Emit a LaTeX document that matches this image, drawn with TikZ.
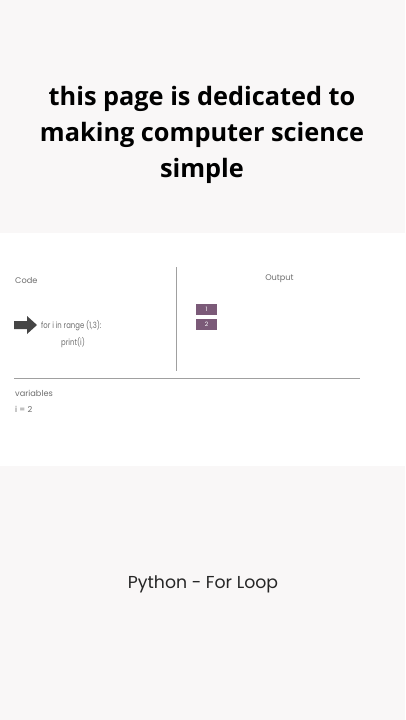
\documentclass[tikz,border=0pt]{standalone}
\usepackage{fontspec}
\setmainfont{Open Sans}
\newfontfamily\popfont{Poppins}
\definecolor{pagebg}{HTML}{F9F7F7}
\definecolor{linegray}{HTML}{A0A0A0}
\definecolor{textgray}{HTML}{6E6E6E}
\definecolor{outpurple}{HTML}{7B5A78}
\definecolor{arrowgray}{HTML}{454545}

\tikzset{
  title/.style={font=\fontsize{25.3}{36}\selectfont\bfseries, align=center, text=black},
  small/.style={font=\popfont\fontsize{8.2}{9}\selectfont, text=textgray, inner sep=0pt},
  codetext/.style={small, font=\popfont\fontsize{8.6}{9}\selectfont\addfontfeature{FakeStretch=0.8}},
  outbox/.style={fill=outpurple, text=white, minimum width=21pt, minimum height=11pt,
    inner sep=0pt, font=\popfont\fontsize{6}{6}\selectfont},
}

\begin{document}
\begin{tikzpicture}[x=1pt,y=-1pt]
% background and white panel
\fill[pagebg] (0,0) rectangle (405,720);
\fill[white] (0,233) rectangle (405,466);
\useasboundingbox (0,0) rectangle (405,720);

% heading
\node[title] (head) at (202,135) {this page is dedicated to\\making computer science\\simple};

% panel dividers
\draw[linegray, line width=1pt] (176,267) -- (176,371);
\draw[linegray, line width=1pt] (14,378) -- (360,378);

% code side
\node[small, anchor=west] (code) at (15,280) {Code};
\coordinate (ptr) at (37,325);
\fill[arrowgray] (14,321) -- (27,321) -- (27,316) -- (ptr) -- (27,334) -- (27,329) -- (14,329) -- cycle;
\node[codetext, anchor=west] (forline) at (41,326) {for i in range (1,3):};
\node[codetext, anchor=west] (printline) at (61,343) {print(i)};

% output side
\node[small] (output) at (279.5,278.5) {Output};
\foreach \n/\y in {1/309.5, 2/324.5} {
  \node[outbox] (out\n) at (206.5,\y) {\n};
}

% variables
\node[small, anchor=west] (vars) at (15,393) {variables};
\node[small, anchor=west] (ival) at (15,409) {i = 2};

% footer
\node[font=\popfont\fontsize{17.3}{20}\selectfont, text=black!85] (topic) at (203,584.5) {Python - For Loop};
\end{tikzpicture}
\end{document}
